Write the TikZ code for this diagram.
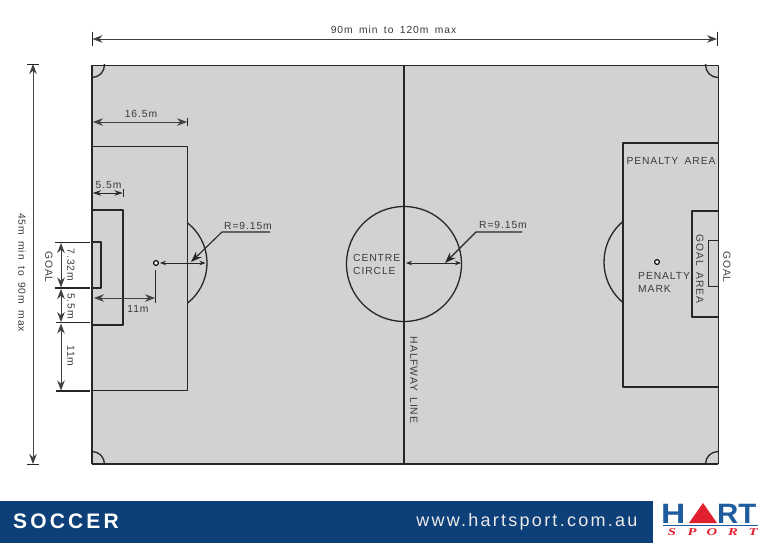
\documentclass[tikz,border=0pt]{standalone}
\usepackage{fontspec}
\setmainfont{Liberation Sans}[LetterSpace=9,WordSpace=1.7]
\newfontfamily\footfont{Liberation Sans}[LetterSpace=12.5]
\newfontfamily\titlefont{Liberation Sans}[LetterSpace=15]
\newfontfamily\logofont{Liberation Sans}
\newfontfamily\sportfont{Liberation Serif}
\usetikzlibrary{arrows.meta}
\definecolor{pitchgrey}{HTML}{D2D2D2}
\definecolor{inkgrey}{HTML}{3A3A3A}
\definecolor{hartblue}{HTML}{0D3F78}
\definecolor{logoblue}{HTML}{1F5C9E}
\definecolor{hartred}{HTML}{E0202E}
\tikzset{
	lab/.style={font=\fontsize{10.3}{13}\selectfont,text=inkgrey,inner sep=0pt},
	dim/.style={draw=black!75,line width=.8pt,{Stealth[length=10pt,width=7.5pt]}-{Stealth[length=10pt,width=7.5pt]}},
	smalldim/.style={draw=black!85,line width=.8pt,{Stealth[length=6pt,width=4.5pt]}-{Stealth[length=6pt,width=4.5pt]}},
	tick/.style={draw=black!85,line width=.9pt},
	markline/.style={draw=black!85,line width=1.1pt},
}
\begin{document}
\begin{tikzpicture}[x=1pt,y=-1pt,line join=round]
	\useasboundingbox (0,0) rectangle (768,543);
	% pitch
	\coordinate (nw) at (92,65);
	\coordinate (ne) at (718,65);
	\coordinate (sw) at (92,464);
	\coordinate (se) at (718,464);
	\coordinate (half top) at (404,65);
	\coordinate (half bot) at (404,464);
	\coordinate (centre) at (404,264);
	\coordinate (lmark) at (156,263);
	\coordinate (rmark) at (657,262);
	\fill[pitchgrey] (nw) rectangle (se);
	\draw[markline,line width=.8pt] (nw)--(ne)--(se);
	\draw[markline] (se)--(sw);
	\draw[markline,line width=2pt] (nw)--(sw);
	\draw[markline,line width=1.4pt] (half top)--(half bot);
	\draw[markline,line width=1.3pt] (centre) circle (57.5);
	\begin{scope}
		\clip (nw) rectangle (se);
		\foreach \corner in {nw,ne,sw,se}
			\draw[markline,line width=1.3pt] (\corner) circle (12.5);
	\end{scope}
	% left end
	\draw[markline,line width=1.1pt] (92,146.5)--(187.5,146.5)--(187.5,390.5)--(92,390.5);
	\draw[markline] (92,210)--(123,210)--(123,325)--(92,325);
	\draw[markline] (92,242)--(101,242)--(101,288)--(92,288);
	\begin{scope}
		\clip (187.5,200) rectangle (230,320);
		\draw[markline,line width=1.3pt] (lmark) circle (51);
	\end{scope}
	\draw[line width=1.1pt,fill=white] (lmark) circle (2.4);
	% right end
	\draw[markline,line width=1.2pt] (718,143)--(623,143)--(623,387)--(718,387);
	\draw[markline,line width=1.2pt] (718,211)--(692,211)--(692,317)--(718,317);
	\draw[markline,line width=.9pt] (718,240)--(708,240)--(708,286)--(718,286);
	\begin{scope}
		\clip (590,200) rectangle (623,320);
		\draw[markline,line width=1.3pt] (rmark) circle (53);
	\end{scope}
	\draw[line width=1.1pt,fill=white] (rmark) circle (2.4);
	% overall sizes
	\coordinate (wa) at (92.5,39);
	\coordinate (wb) at (717,39);
	\coordinate (ha) at (33,64);
	\coordinate (hb) at (33,464);
	\draw[dim] (wa)--(wb);
	\draw[tick] (92,32)--(92,46);
	\draw[tick] (717,32)--(717,46);
	\draw[dim] (ha)--(hb);
	\draw[tick] (27,64)--(39,64);
	\draw[tick] (27,464)--(39,464);
	\node[lab] (width label) at (393.5,30) {90m min to 120m max};
	\node[lab,rotate=-90] (height label) at (22,272.5) {45m min to 90m max};
	% left dimensions
	\coordinate (pa a) at (93,122);
	\coordinate (pa b) at (187,122);
	\draw[dim] (pa a)--(pa b);
	\draw[tick] (187.5,118)--(187.5,126);
	\node[lab] (pa label) at (141,114) {16.5m};
	\coordinate (ga a) at (93,193);
	\coordinate (ga b) at (122.5,193);
	\draw[smalldim,{Stealth[length=8pt,width=5.5pt]}-{Stealth[length=8pt,width=5.5pt]}] (ga a)--(ga b);
	\draw[tick] (123,189)--(123,197);
	\node[lab] (ga label) at (108.5,185) {5.5m};
	\draw[tick] (55,242)--(90,242);
	\draw[tick,line width=1.2pt] (55,288)--(90,288);
	\draw[tick,line width=1.2pt] (56,322.5)--(90,322.5);
	\draw[tick,line width=1.2pt] (56,391)--(90,391);
	\coordinate (da) at (61,243);
	\coordinate (db) at (61,287.5);
	\coordinate (dc) at (61,289);
	\coordinate (dd) at (61,322);
	\coordinate (de) at (61,323.5);
	\coordinate (df) at (61,390.5);
	\draw[dim] (da)--(db);
	\draw[dim] (dc)--(dd);
	\draw[dim] (de)--(df);
	\node[lab,rotate=-90] (goal width) at (71,265) {7.32m};
	\node[lab,rotate=-90] (goal left) at (49,267) {GOAL};
	\node[lab,rotate=-90] (post gap) at (71,306) {5.5m};
	\node[lab,rotate=-90] (area gap) at (71,356) {11m};
	\coordinate (sp a) at (94,298);
	\coordinate (sp b) at (155,298);
	\draw[dim] (sp a)--(sp b);
	\draw[markline] (155.5,270)--(155.5,303);
	\node[lab] (spot label) at (138,309) {11m};
	% radius labels
	\coordinate (lr a) at (160,263);
	\coordinate (lr b) at (205.5,263);
	\draw[smalldim] (lr a)--(lr b);
	\draw[markline,line width=1.1pt,-{Stealth[length=11pt,width=8pt]}] (270,232)--(222,232)--(191,262);
	\node[lab] (left radius) at (248,226) {R=9.15m};
	\coordinate (cr a) at (406,263);
	\coordinate (cr b) at (461,263);
	\draw[smalldim] (cr a)--(cr b);
	\draw[markline,line width=1.1pt,-{Stealth[length=11pt,width=8pt]}] (522,232)--(476,232)--(445,263);
	\node[lab] (centre radius) at (503,225) {R=9.15m};
	% pitch labels
	\node[lab,anchor=west,align=left] (centre circle) at (353,264.5) {CENTRE\\CIRCLE};
	\node[lab,rotate=-90] (halfway) at (414,380) {HALFWAY LINE};
	\node[lab] (penalty area) at (671,161) {PENALTY AREA};
	\node[lab,anchor=west,align=left] (penalty mark) at (638,282.5) {PENALTY\\MARK};
	\node[lab,rotate=-90] (goal area) at (700,269) {GOAL AREA};
	\node[lab,rotate=-90] (goal right) at (727,267) {GOAL};
	% footer
	\fill[hartblue] (0,501) rectangle (653,543);
	\node[inner sep=0pt,anchor=west,text=white,font=\titlefont\bfseries\fontsize{21}{21}\selectfont] (sport name) at (13,521.5) {SOCCER};
	\node[inner sep=0pt,anchor=east,text=black!8,font=\footfont\fontsize{18}{18}\selectfont] (web) at (637.5,521.5) {www.hartsport.com.au};
	% logo
	\node[inner sep=0pt,anchor=base west,text=logoblue,xscale=1.2,font=\logofont\bfseries\fontsize{28}{28}\selectfont] (logo h) at (661,523) {H};
	\fill[hartred] (689,523)--(703,503)--(717,523)--cycle;
	\node[inner sep=0pt,anchor=base west,text=logoblue,xscale=1.05,font=\logofont\bfseries\fontsize{28}{28}\selectfont] (logo rt) at (717,523) {RT};
	\draw[logoblue,line width=1.2pt] (663,525.5)--(758,525.5);
	\foreach \x/\c in {672/S,692/P,712/O,733/R,753/T}
		\node[inner sep=0pt,text=hartred,xscale=1.4,font=\sportfont\bfseries\itshape\fontsize{10.5}{10.5}\selectfont] (logo \c) at (\x,532.5) {\c};
\end{tikzpicture}
\end{document}
